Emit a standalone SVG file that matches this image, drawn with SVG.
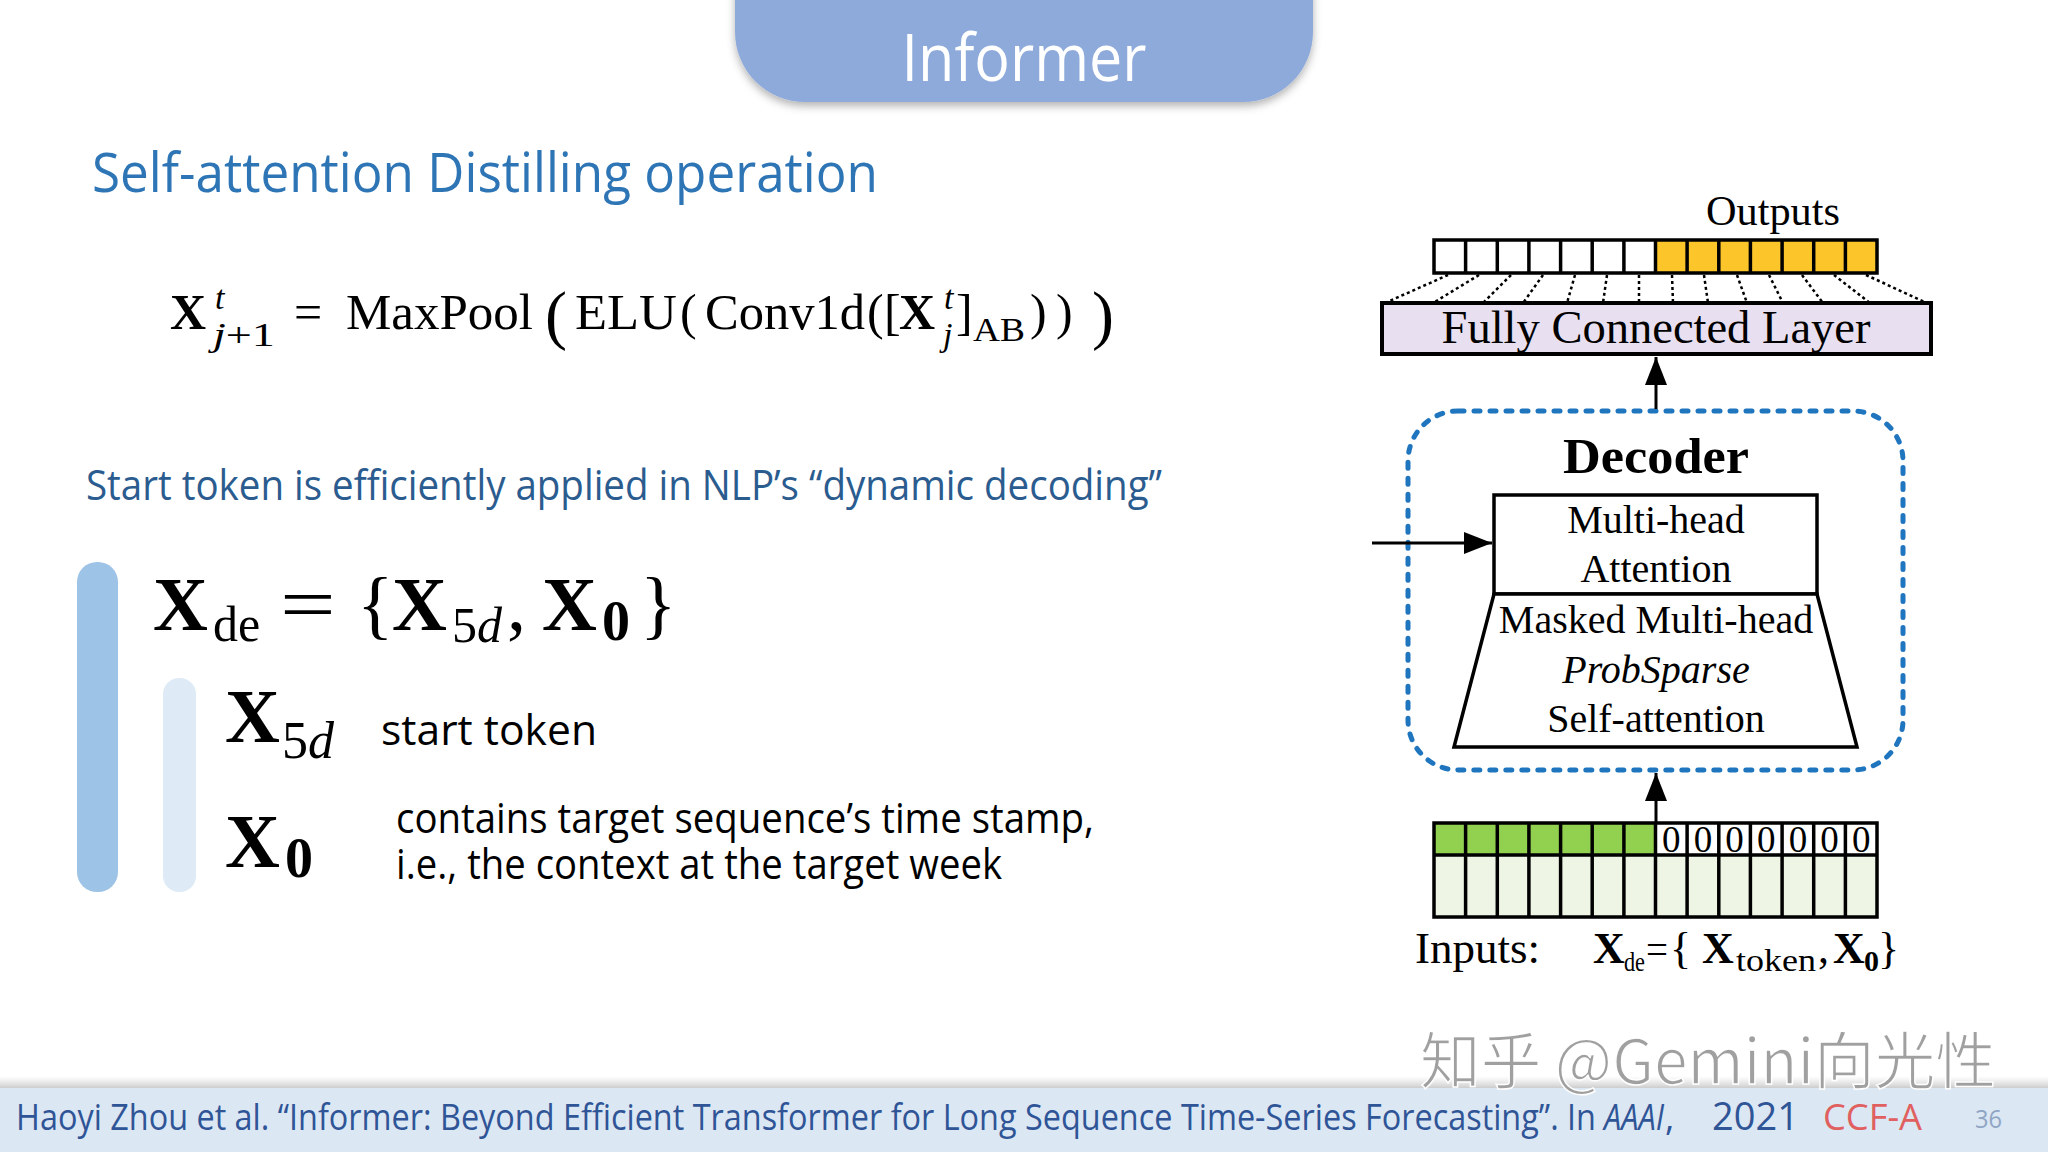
<svg xmlns="http://www.w3.org/2000/svg" width="2048" height="1152" viewBox="0 0 2048 1152">
  <defs>
    <style>
      .os { font-family: "Open Sans", "Noto Sans", sans-serif; }
      .tm { font-family: "Liberation Serif", "DejaVu Serif", serif; fill: #000; }
      .b { font-weight: bold; }
      .i { font-style: italic; }
      .cell { stroke: #000; stroke-width: 3.5; }
      .div { stroke: #000; stroke-width: 3.5; }
      .dot { stroke: #000; stroke-width: 2.5; stroke-dasharray: 3 3; fill: none; }
      .arrow { stroke: #000; stroke-width: 3; fill: none; marker-end: url(#ah); }
    </style>
    <marker id="ah" markerUnits="userSpaceOnUse" markerWidth="30" markerHeight="22" refX="28" refY="11" orient="auto">
      <path d="M0,0 L28,11 L0,22 z" fill="#000"/>
    </marker>
    <filter id="sh" x="-10%" y="-30%" width="120%" height="160%">
      <feDropShadow dx="0" dy="4" stdDeviation="4" flood-color="#000" flood-opacity="0.3"/>
    </filter>
    <linearGradient id="fshadow" x1="0" y1="0" x2="0" y2="1">
      <stop offset="0" stop-color="#bbbbbb" stop-opacity="0"/>
      <stop offset="1" stop-color="#9a9a9a" stop-opacity="0.5"/>
    </linearGradient>
  </defs>

  <rect width="2048" height="1152" fill="#ffffff"/>

  <!-- Title pill -->
  <g id="title">
    <rect x="735" y="-80" width="578" height="182" rx="70" fill="#8EAADB" filter="url(#sh)"/>
    <text x="1024" y="81" class="os" font-size="66" fill="#ffffff" text-anchor="middle" textLength="245" lengthAdjust="spacingAndGlyphs">Informer</text>
  </g>

  <!-- Heading -->
  <g id="heading">
    <text x="92" y="192" class="os" font-size="54" fill="#2E75B6" textLength="786" lengthAdjust="spacingAndGlyphs">Self-attention Distilling operation</text>
  </g>

  <!-- Distilling formula -->
  <g id="formula-distill" class="tm">
    <text x="170" y="329" font-size="50" class="b">X</text>
    <text x="215" y="309" font-size="34" class="i">t</text>
    <text x="213" y="346" font-size="34" textLength="62" lengthAdjust="spacingAndGlyphs"><tspan class="i">j</tspan>+1</text>
    <text x="294" y="329" font-size="50">=</text>
    <text x="346" y="329" font-size="50" textLength="187" lengthAdjust="spacingAndGlyphs">MaxPool</text>
    <text x="545" y="337" font-size="66">(</text>
    <text x="575" y="329" font-size="50" textLength="102" lengthAdjust="spacingAndGlyphs">ELU</text>
    <text x="680" y="329" font-size="50">(</text>
    <text x="705" y="329" font-size="50" textLength="160" lengthAdjust="spacingAndGlyphs">Conv1d</text>
    <text x="867" y="329" font-size="50">(</text>
    <text x="884" y="329" font-size="50">[</text>
    <text x="899" y="329" font-size="50" class="b">X</text>
    <text x="944" y="309" font-size="34" class="i">t</text>
    <text x="943" y="346" font-size="34" class="i">j</text>
    <text x="956" y="329" font-size="50">]</text>
    <text x="973" y="341" font-size="34" textLength="52" lengthAdjust="spacingAndGlyphs">AB</text>
    <text x="1030" y="329" font-size="50">)</text>
    <text x="1056" y="329" font-size="50">)</text>
    <text x="1092" y="337" font-size="66">)</text>
  </g>

  <!-- Start token sentence -->
  <g id="start-token-note">
    <text x="86" y="500" class="os" font-size="42" fill="#2B5C8F" textLength="1076" lengthAdjust="spacingAndGlyphs">Start token is efficiently applied in NLP’s “dynamic decoding”</text>
  </g>

  <!-- Bars -->
  <g id="bars">
    <rect x="77" y="562" width="41" height="330" rx="20" fill="#9DC3E6"/>
    <rect x="163" y="678" width="33" height="214" rx="16" fill="#DEEBF7"/>
  </g>

  <!-- X_de formula -->
  <g id="formula-xde" class="tm">
    <text x="153" y="630" font-size="76" class="b">X</text>
    <text x="213" y="641" font-size="50">de</text>
    <text x="280" y="630" font-size="76" transform="translate(280 0) scale(1.3 1) translate(-280 0)">=</text>
    <text x="357" y="630" font-size="76">{</text>
    <text x="392" y="630" font-size="76" class="b">X</text>
    <text x="452" y="642" font-size="50">5<tspan class="i">d</tspan></text>
    <text x="507" y="630" font-size="76">,</text>
    <text x="542" y="630" font-size="76" class="b">X</text>
    <text x="602" y="640" font-size="56" class="b">0</text>
    <text x="640" y="630" font-size="76">}</text>
  </g>

  <!-- X_5d start token -->
  <g id="item-x5d">
    <text x="225" y="742" font-size="76" class="tm b">X</text>
    <text x="282" y="758" font-size="52" class="tm">5<tspan class="i">d</tspan></text>
    <text x="381" y="745" class="os" font-size="42" fill="#000" textLength="216" lengthAdjust="spacingAndGlyphs">start token</text>
  </g>

  <!-- X_0 -->
  <g id="item-x0">
    <text x="225" y="867" font-size="76" class="tm b">X</text>
    <text x="285" y="877" font-size="56" class="tm b">0</text>
    <text x="396" y="833" class="os" font-size="42" fill="#000" textLength="698" lengthAdjust="spacingAndGlyphs">contains target sequence’s time stamp,</text>
    <text x="396" y="879" class="os" font-size="42" fill="#000" textLength="606" lengthAdjust="spacingAndGlyphs">i.e., the context at the target week</text>
  </g>

  <!-- Right diagram -->
  <g id="outputs">
    <text x="1706" y="225" class="tm" font-size="42" textLength="134" lengthAdjust="spacingAndGlyphs">Outputs</text>
    <rect x="1434" y="240" width="222" height="33" fill="#ffffff"/>
    <rect x="1656" y="240" width="221" height="33" fill="#FCC62A"/>
    <rect x="1434" y="240" width="443" height="33" fill="none" class="cell"/>
    <g class="div">
      <line x1="1465.6" y1="240" x2="1465.6" y2="273"/>
      <line x1="1497.3" y1="240" x2="1497.3" y2="273"/>
      <line x1="1528.9" y1="240" x2="1528.9" y2="273"/>
      <line x1="1560.6" y1="240" x2="1560.6" y2="273"/>
      <line x1="1592.2" y1="240" x2="1592.2" y2="273"/>
      <line x1="1623.9" y1="240" x2="1623.9" y2="273"/>
      <line x1="1655.5" y1="240" x2="1655.5" y2="273"/>
      <line x1="1687.1" y1="240" x2="1687.1" y2="273"/>
      <line x1="1718.8" y1="240" x2="1718.8" y2="273"/>
      <line x1="1750.4" y1="240" x2="1750.4" y2="273"/>
      <line x1="1782.1" y1="240" x2="1782.1" y2="273"/>
      <line x1="1813.7" y1="240" x2="1813.7" y2="273"/>
      <line x1="1845.4" y1="240" x2="1845.4" y2="273"/>
    </g>
  </g>

  <g id="fc-layer">
    <rect x="1382" y="303" width="549" height="51" fill="#E8E0F0" stroke="#000" stroke-width="4"/>
    <text x="1656" y="343" class="tm" font-size="46" text-anchor="middle" textLength="429" lengthAdjust="spacingAndGlyphs">Fully Connected Layer</text>
  </g>

  <g id="decoder">
    <rect x="1408" y="411" width="495" height="359" rx="50" fill="none" stroke="#1F75BE" stroke-width="5" stroke-dasharray="6 10" stroke-linecap="round"/>
    <text x="1656" y="473" class="tm b" font-size="50" text-anchor="middle" textLength="186" lengthAdjust="spacingAndGlyphs">Decoder</text>
  </g>

  <g id="multihead-attention">
    <rect x="1494" y="495" width="323" height="99" fill="#ffffff" stroke="#000" stroke-width="3.5"/>
    <text x="1656" y="533" class="tm" font-size="40" text-anchor="middle">Multi-head</text>
    <text x="1656" y="582" class="tm" font-size="40" text-anchor="middle">Attention</text>
  </g>

  <g id="masked-probsparse">
    <path d="M1494,594 L1817,594 L1857,747 L1454,747 Z" fill="#ffffff" stroke="#000" stroke-width="3.5" stroke-linejoin="miter"/>
    <text x="1656" y="633" class="tm" font-size="40" text-anchor="middle">Masked Multi-head</text>
    <text x="1656" y="683" class="tm i" font-size="40" text-anchor="middle">ProbSparse</text>
    <text x="1656" y="732" class="tm" font-size="40" text-anchor="middle">Self-attention</text>
  </g>

  <g id="inputs">
    <rect x="1434" y="823" width="222" height="32" fill="#92D050"/>
    <rect x="1656" y="823" width="221" height="32" fill="#ffffff"/>
    <rect x="1434" y="855" width="443" height="62" fill="#EEF5E4"/>
    <rect x="1434" y="823" width="443" height="94" fill="none" class="cell"/>
    <line x1="1434" y1="855" x2="1877" y2="855" class="div"/>
    <g class="div">
      <line x1="1465.6" y1="823" x2="1465.6" y2="917"/>
      <line x1="1497.3" y1="823" x2="1497.3" y2="917"/>
      <line x1="1528.9" y1="823" x2="1528.9" y2="917"/>
      <line x1="1560.6" y1="823" x2="1560.6" y2="917"/>
      <line x1="1592.2" y1="823" x2="1592.2" y2="917"/>
      <line x1="1623.9" y1="823" x2="1623.9" y2="917"/>
      <line x1="1655.5" y1="823" x2="1655.5" y2="917"/>
      <line x1="1687.1" y1="823" x2="1687.1" y2="917"/>
      <line x1="1718.8" y1="823" x2="1718.8" y2="917"/>
      <line x1="1750.4" y1="823" x2="1750.4" y2="917"/>
      <line x1="1782.1" y1="823" x2="1782.1" y2="917"/>
      <line x1="1813.7" y1="823" x2="1813.7" y2="917"/>
      <line x1="1845.4" y1="823" x2="1845.4" y2="917"/>
    </g>
    <g class="tm" font-size="37" text-anchor="middle">
      <text x="1671.3" y="852">0</text>
      <text x="1702.9" y="852">0</text>
      <text x="1734.6" y="852">0</text>
      <text x="1766.2" y="852">0</text>
      <text x="1797.9" y="852">0</text>
      <text x="1829.5" y="852">0</text>
      <text x="1861.2" y="852">0</text>
    </g>
  </g>

  <g id="inputs-label">
    <text x="1415" y="963" class="tm" font-size="44" textLength="125" lengthAdjust="spacingAndGlyphs">Inputs:</text>
    <text x="1593" y="963" class="tm b" font-size="44">X</text>
    <text x="1624" y="971" class="tm" font-size="28" textLength="21" lengthAdjust="spacingAndGlyphs">de</text>
    <text x="1646" y="963" class="tm" font-size="42" textLength="22" lengthAdjust="spacingAndGlyphs">=</text>
    <text x="1670" y="963" class="tm" font-size="44">{</text>
    <text x="1702" y="963" class="tm b" font-size="44">X</text>
    <text x="1736" y="971" class="tm" font-size="32" textLength="80" lengthAdjust="spacingAndGlyphs">token</text>
    <text x="1818" y="963" class="tm" font-size="44">,</text>
    <text x="1833" y="963" class="tm b" font-size="44">X</text>
    <text x="1864" y="971" class="tm b" font-size="30">0</text>
    <text x="1878" y="963" class="tm" font-size="44">}</text>
  </g>

  <!-- Connectors -->
  <g id="connectors">
    <line x1="1656" y1="823" x2="1656" y2="773" class="arrow"/>
    <line x1="1656" y1="409" x2="1656" y2="357" class="arrow"/>
    <line x1="1372" y1="543" x2="1492" y2="543" class="arrow"/>
    <g class="dot">
      <line x1="1448" y1="275" x2="1385" y2="303"/>
      <line x1="1479" y1="275" x2="1433" y2="303"/>
      <line x1="1511" y1="275" x2="1483" y2="303"/>
      <line x1="1543" y1="275" x2="1523" y2="303"/>
      <line x1="1575" y1="275" x2="1567" y2="303"/>
      <line x1="1607" y1="275" x2="1603" y2="303"/>
      <line x1="1639" y1="275" x2="1639" y2="303"/>
      <line x1="1672" y1="275" x2="1673" y2="303"/>
      <line x1="1704" y1="275" x2="1708" y2="303"/>
      <line x1="1737" y1="275" x2="1747" y2="303"/>
      <line x1="1769" y1="275" x2="1783" y2="303"/>
      <line x1="1802" y1="275" x2="1823" y2="303"/>
      <line x1="1834" y1="275" x2="1870" y2="303"/>
      <line x1="1866" y1="275" x2="1927" y2="303"/>
    </g>
  </g>

  <!-- Footer -->
  <g id="footer">
    <rect x="0" y="1076" width="2048" height="12" fill="url(#fshadow)"/>
    <rect x="0" y="1088" width="2048" height="64" fill="#DCE7F4"/>
    <text x="16" y="1130" class="os" font-size="36" fill="#2F5597" textLength="1580" lengthAdjust="spacingAndGlyphs">Haoyi Zhou et al. “Informer: Beyond Efficient Transformer for Long Sequence Time-Series Forecasting”. In</text>
    <text x="1604" y="1130" class="os i" font-size="36" fill="#2F5597" textLength="60" lengthAdjust="spacingAndGlyphs">AAAI</text>
    <text x="1665" y="1130" class="os" font-size="36" fill="#2F5597">,</text>
    <text x="1712" y="1130" class="os" font-size="38" fill="#2F5597">2021</text>
    <text x="1823" y="1130" class="os" font-size="36" fill="#E06060" textLength="99" lengthAdjust="spacingAndGlyphs">CCF-A</text>
    <text x="1975" y="1128" class="os" font-size="26" fill="#8FA5C4" textLength="27" lengthAdjust="spacingAndGlyphs">36</text>
  </g>

  <!-- Watermark -->
  <g id="watermark">
    <text x="1420" y="1084" font-family="'Noto Sans CJK SC', 'Noto Sans', sans-serif" font-size="62" fill="#A0A0A0" stroke="#ffffff" stroke-width="1.5" textLength="576" lengthAdjust="spacingAndGlyphs">知乎 @Gemini向光性</text>
  </g>
</svg>
